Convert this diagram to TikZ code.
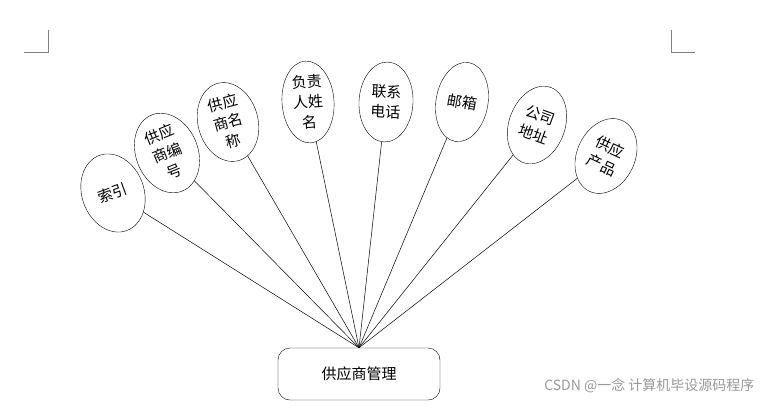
\documentclass[tikz,border=0pt]{standalone}
\usepackage{fontspec}
\setmainfont{Noto Sans CJK SC}
\usetikzlibrary{shapes.geometric}
\tikzset{
  attr/.style={draw,ellipse,inner sep=0pt,align=center,font=\fontsize{15}{20}\selectfont},
  entity/.style={draw,rounded corners=12pt,minimum width=162pt,minimum height=52pt,font=\fontsize{15}{18}\selectfont},
  cornermark/.style={line width=0.6pt,gray}
}
\begin{document}
\begin{tikzpicture}[x=1pt,y=-1pt]
        \useasboundingbox (0,0) rectangle (768,408);
        %%%%%%%%%% Angoli %%%%%%%%%%
        \draw[cornermark] (48,30) -- (48,52) -- (24,52);
        \draw[cornermark] (671,30) -- (671,52) -- (695,52);

        %%%%%%%%%% Nodi %%%%%%%%%%
        \node[entity] (gys) at (359,374) {供应商管理};
        \node[attr,minimum width=62pt,minimum height=80pt,rotate=20] (sy) at (113,193) {索引};
        \node[attr,minimum width=62pt,minimum height=82pt,rotate=22] (bh) at (167,153) {供应\\商编\\号};
        \node[attr,minimum width=60pt,minimum height=80pt,rotate=15] (mc) at (228,122) {供应\\商名\\称};
        \node[attr,minimum width=52pt,minimum height=82pt,rotate=4] (fz) at (308,102) {负责\\人姓\\名};
        \node[attr,minimum width=54pt,minimum height=80pt,rotate=-3] (dh) at (386,102) {联系\\电话};
        \node[attr,minimum width=52pt,minimum height=80pt,rotate=-10] (yx) at (462,102) {邮箱};
        \node[attr,minimum width=56pt,minimum height=80pt,rotate=-20] (dz) at (537,125) {公司\\地址};
        \node[attr,minimum width=58pt,minimum height=78pt,rotate=-25] (cp) at (606,156) {供应\\产品};

        %%%%%%%%% Linee %%%%%%%%%
        \foreach \n in {sy,bh,mc,fz,dh,yx,dz,cp}
            \draw[line width=0.5pt] (\n) -- (gys.north);

        \node[text=gray!80,font=\fontsize{14}{16}\selectfont,anchor=east] (wm) at (758,386) {CSDN @一念 计算机毕设源码程序};
    \end{tikzpicture}
\end{document}
